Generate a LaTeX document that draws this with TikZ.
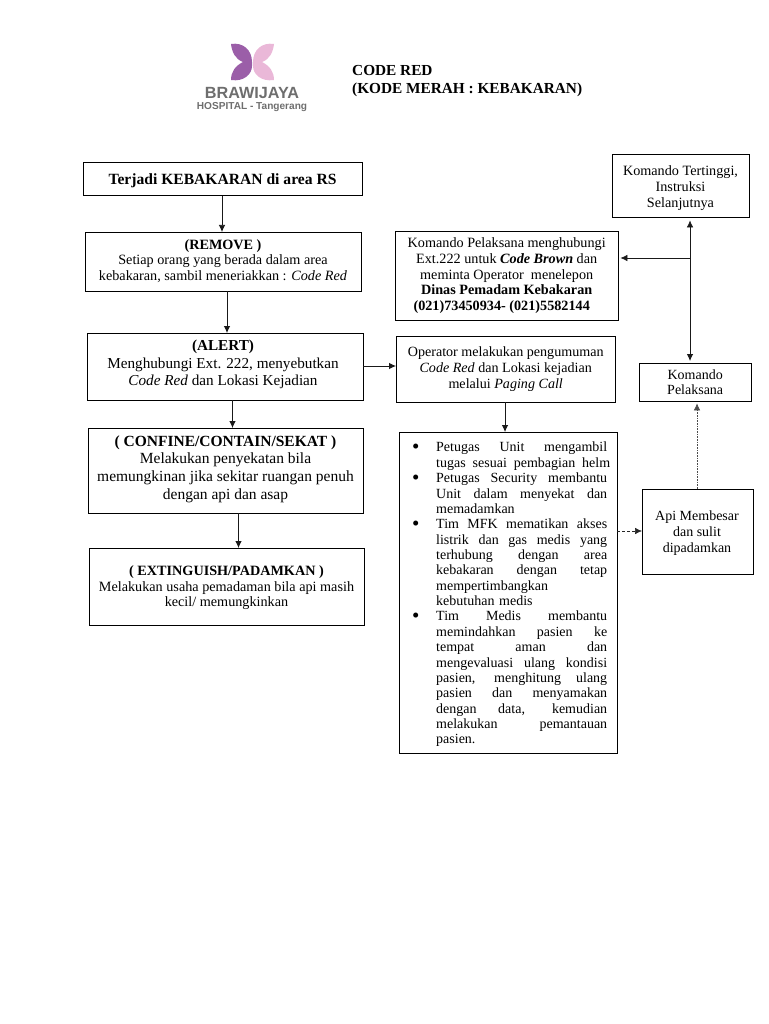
\documentclass[tikz,border=0pt]{standalone}
\usepackage{fontspec}
\setmainfont{Liberation Serif}
\newfontfamily\logofont{Liberation Sans}
\usetikzlibrary{arrows.meta,calc}
\newcommand{\fs}[2]{\fontsize{#1pt}{#2pt}\selectfont}
\newcommand{\jl}[1]{\makebox[171pt][s]{\spaceskip=0pt plus 1fil\relax #1}\\}
\newcommand{\bl}{\leavevmode\llap{\makebox[24pt][l]{\raisebox{-1.6pt}{\fontsize{21pt}{15pt}\selectfont\textbullet}}}}
\definecolor{logop}{HTML}{9B5EA8}
\definecolor{logol}{HTML}{EAB8D8}
\definecolor{logog}{HTML}{6E6E6E}
\tikzset{
  x=1pt,y=-1pt,
  tip/.tip={Latex[length=7pt,width=6.5pt]},
  box/.style={draw=black,line width=0.9pt,fill=white,inner sep=0pt,align=center,anchor=north west},
  txt/.style={inner sep=0pt,align=center},
  arr/.style={-tip,line width=0.75pt,black!90},
  dbl/.style={tip-tip,line width=0.75pt,black!90,shorten <=2pt,shorten >=2pt},
  dasharr/.style={-tip,line width=0.6pt,densely dashed,black!85},
  dotarr/.style={-tip,line width=0.6pt,densely dotted,black!70,shorten >=2pt},
}
\begin{document}
\begin{tikzpicture}
\useasboundingbox (0,0) rectangle (768,1024);
% logo
\fill[logop] (231,44) .. controls (243,42) and (252,50) .. (252,62) -- (252,66) .. controls (252,74) and (244,82) .. (231,80) .. controls (231,72) and (235,66) .. (243,62) .. controls (235,59) and (232,52) .. (231,44) -- cycle;
\fill[logol] (274,44) .. controls (262,42) and (253,50) .. (253,62) -- (253,66) .. controls (253,74) and (261,82) .. (274,80) .. controls (274,72) and (270,66) .. (262,62) .. controls (270,59) and (273,52) .. (274,44) -- cycle;
\node[txt,text=logog,font=\logofont\bfseries\fs{16.2}{18}] (logoa) at (252,93) {BRAWIJAYA};
\node[txt,text=logog,font=\logofont\bfseries\fs{10.1}{12}] (logob) at (252,107) {HOSPITAL - Tangerang};
% title
\node[inner sep=0pt,align=left,anchor=north west,font=\fs{15.3}{18}\bfseries] (title) at (352,65.5) {CODE RED\\(KODE MERAH : KEBAKARAN)};
% left column
\node[box,minimum width=278.5pt,minimum height=33.5pt] (terjadi) at (83,162) {};
\node[txt,font=\fs{15.6}{18}\bfseries] (terjadit) at (222.5,180.5) {Terjadi KEBAKARAN di area RS};
\node[box,minimum width=275.5pt,minimum height=58.5pt] (remove) at (85,232) {};
\node[txt,font=\fs{14.2}{15.5}] (removet) at (223,261) {\textbf{(REMOVE )}\\Setiap orang yang berada dalam area\\kebakaran, sambil meneriakkan : \textit{Code Red}};
\node[box,minimum width=275.5pt,minimum height=66.5pt] (alert) at (87,333) {};
\node[txt,font=\fs{15.2}{17.5}] (alertt) at (223,364.5) {\textbf{(ALERT)}\\Menghubungi Ext. 222, menyebutkan\\\textit{Code Red} dan Lokasi Kejadian};
\node[box,minimum width=274.5pt,minimum height=84.5pt] (confine) at (88,428) {};
\node[txt,font=\fs{15.5}{17.6}] (confinet) at (225.5,469) {\textbf{( CONFINE/CONTAIN/SEKAT )}\\Melakukan penyekatan bila\\memungkinan jika sekitar ruangan penuh\\dengan api dan asap};
\node[box,minimum width=274.5pt,minimum height=76.5pt] (exting) at (89,548) {};
\node[txt,anchor=north,font=\fs{14.2}{15.5}] (extingt) at (226.5,565.5) {\textbf{( EXTINGUISH/PADAMKAN )}\\Melakukan usaha pemadaman bila api masih\\kecil/ memungkinkan};
% middle column
\node[box,minimum width=222.5pt,minimum height=88.5pt,font=\fs{14.2}{15.7}] (kp) at (395,231) {Komando Pelaksana menghubungi\\Ext.222 untuk \textbf{\textit{Code Brown}} dan\\meminta Operator\ \ menelepon\\\textbf{Dinas Pemadam Kebakaran}\hspace*{2pt}\\\textbf{(021)73450934- (021)5582144}\hspace*{10pt}};
\node[box,minimum width=218.5pt,minimum height=65.5pt,font=\fs{14.1}{15.7}] (oper) at (396,336) {Operator melakukan pengumuman\\\textit{Code Red} dan Lokasi kejadian\\melalui \textit{Paging Call}};
\node[box,minimum width=217.5pt,minimum height=320.5pt] (list) at (399,432) {};
\node[inner sep=0pt,text width=171pt,align=left,anchor=north west,font=\fs{14}{15.37}] (listt) at (436,442) {%
\bl\jl{Petugas Unit mengambil}
\makebox[174pt][s]{\spaceskip=0pt plus 1fil\relax tugas sesuai pembagian helm}\\
\bl\jl{Petugas Security membantu}
\jl{Unit dalam menyekat dan}
memadamkan\\
\bl\jl{Tim MFK mematikan akses}
\jl{listrik dan gas medis yang}
\jl{terhubung dengan area}
\jl{kebakaran dengan tetap}
mempertimbangkan\\
kebutuhan medis\\
\bl\jl{Tim Medis membantu}
\jl{memindahkan pasien ke}
\jl{tempat aman dan}
\jl{mengevaluasi ulang kondisi}
\jl{pasien, menghitung ulang}
\jl{pasien dan menyamakan}
\jl{dengan data, kemudian}
\jl{melakukan pemantauan}
pasien.};
% right column
\node[box,minimum width=136.5pt,minimum height=63.5pt] (tinggi) at (612,154) {};
\node[txt,font=\fs{14.2}{15.7}] (tinggit) at (680.5,188) {Komando Tertinggi,\\Instruksi\\Selanjutnya};
\node[box,minimum width=111.5pt,minimum height=37.5pt,font=\fs{14}{15.5}] (pel) at (639,363) {Komando\\Pelaksana};
\node[box,minimum width=110.5pt,minimum height=84.5pt] (api) at (642,489) {};
\node[txt,font=\fs{14}{16}] (apit) at (697,533.5) {Api Membesar\\dan sulit\\dipadamkan};
% connector guides
\coordinate (xa) at (222,0);
\coordinate (xb) at (227,0);
\coordinate (xc) at (232.5,0);
\coordinate (xd) at (238.5,0);
\coordinate (xe) at (505,0);
\coordinate (xf) at (690,0);
\coordinate (xg) at (697,0);
\coordinate (ya) at (0,366);
\coordinate (yb) at (0,531);
\coordinate (jn) at (690,258);
\draw[arr] (terjadi.south -| xa) -- (remove.north -| xa);
\draw[arr] (remove.south -| xb) -- (alert.north -| xb);
\draw[arr] (alert.south -| xc) -- (confine.north -| xc);
\draw[arr] (confine.south -| xd) -- (exting.north -| xd);
\draw[arr] (alert.east |- ya) -- (oper.west |- ya);
\draw[arr] (oper.south -| xe) -- (list.north -| xe);
\draw[dbl] (tinggi.south -| xf) -- (pel.north -| xf);
\draw[arr,shorten >=2pt] (jn) -- (kp.east |- jn);
\draw[dasharr] (list.east |- yb) -- (api.west |- yb);
\draw[dotarr] (api.north -| xg) -- (pel.south -| xg);
\end{tikzpicture}
\end{document}
